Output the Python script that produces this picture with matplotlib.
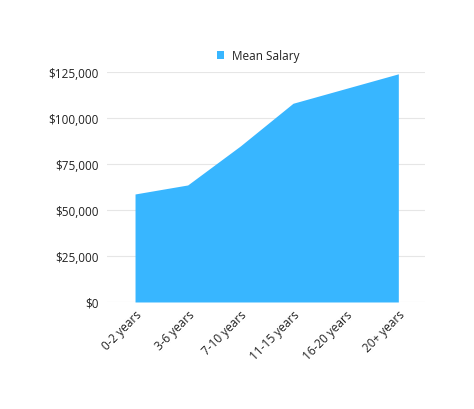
import matplotlib
matplotlib.use("Agg")
import matplotlib.pyplot as plt
from matplotlib.patches import Patch

categories = ["0-2 years", "3-6 years", "7-10 years", "11-15 years", "16-20 years", "20+ years"]
mean_salary = [58700, 63600, 84800, 108000, 116000, 124000]
yticks = [0, 25000, 50000, 75000, 100000, 125000]
ytick_labels = ["$0", "$25,000", "$50,000", "$75,000", "$100,000", "$125,000"]

color = "#38B6FF"
plt.rcParams['font.family'] = ['Open Sans', 'DejaVu Sans']

fig = plt.figure(figsize=(4.74, 4.10), dpi=100)
ax = fig.add_axes([0.226, 0.261, 0.671, 0.561])
x = list(range(len(categories)))
ax.fill_between(x, mean_salary, 0, color=color, linewidth=0, zorder=2)
ax.set_xlim(-0.53, len(categories) - 1 + 0.51)
ax.set_ylim(0, 125000)
ax.set_yticks(yticks)
ax.set_yticklabels(ytick_labels, fontsize=8.5, color="#222222")
ax.set_xticks(x)
ax.set_xticklabels(categories, rotation=45, ha="right", rotation_mode="anchor", fontsize=8.5, color="#222222")
ax.grid(axis="y", color="#e6e6e6", linewidth=0.8, zorder=0)
for s in ax.spines.values():
    s.set_visible(False)
ax.tick_params(length=0, pad=6)
ax.tick_params(axis="x", pad=4)
ax.set_axisbelow(True)

handles = [Patch(facecolor=color, edgecolor="none", label="Mean Salary")]
fig.legend(handles=handles, loc="center", bbox_to_anchor=(0.545, 0.862), frameon=False,
           fontsize=8.5, handlelength=0.6, handleheight=0.6, handletextpad=0.7, labelcolor="#222222")

fig.savefig("out.png", dpi=100, facecolor="white")
